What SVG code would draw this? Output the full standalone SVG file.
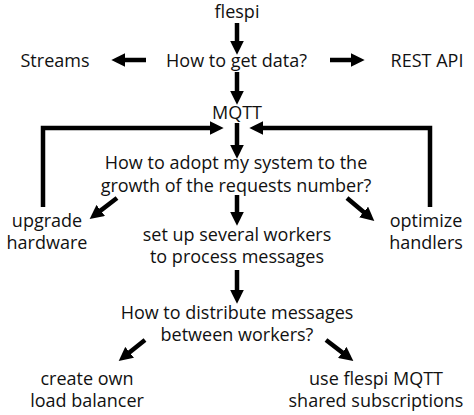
<svg xmlns="http://www.w3.org/2000/svg" width="474" height="415" viewBox="0 0 474 415">
<style>
text{font-family:"Open Sans","DejaVu Sans",sans-serif;font-size:18px;fill:#111;text-anchor:middle}
.c{fill:none;stroke:#000;stroke-width:4.5;marker-end:url(#ah)}
</style>
<defs>
<marker id="ah" markerUnits="userSpaceOnUse" markerWidth="14" markerHeight="14" refX="2" refY="6" orient="auto" viewBox="0 0 12 12">
<path d="M0,0 L12,6 L0,12 z" fill="#000"/>
</marker>
</defs>
<rect width="474" height="415" fill="#fff"/>
<g id="connectors">
<path class="c" d="M237,23 V43"/>
<path class="c" d="M237,72 V93"/>
<path class="c" d="M146,60 H123"/>
<path class="c" d="M330,60 H353"/>
<path class="c" d="M43,207 V128 H212"/>
<path class="c" d="M430,207 V128 H261"/>
<path class="c" d="M237,123 V147"/>
<path class="c" d="M117,198 L98.9,211.9"/>
<path class="c" d="M237,195 V214"/>
<path class="c" d="M347,198 L365.4,213.5"/>
<path class="c" d="M237,270 V292"/>
<path class="c" d="M145,340 L127.8,353.8"/>
<path class="c" d="M326,340 L344.1,353.9"/>
</g>
<g id="flespi"><text x="237" y="18">flespi</text></g>
<g id="streams"><text x="55" y="67">Streams</text></g>
<g id="get-data"><text x="236.5" y="67">How to get data?</text></g>
<g id="rest-api"><text x="427" y="67">REST API</text></g>
<g id="mqtt"><text x="237" y="119">MQTT</text></g>
<g id="adopt"><text x="236" y="169">How to adopt my system to the</text><text x="236" y="192">growth of the requests number?</text></g>
<g id="upgrade"><text x="47" y="227">upgrade</text><text x="47" y="249">hardware</text></g>
<g id="workers"><text x="237" y="241">set up several workers</text><text x="237" y="263">to process messages</text></g>
<g id="optimize"><text x="426" y="227">optimize</text><text x="426" y="249">handlers</text></g>
<g id="distribute"><text x="237" y="319">How to distribute messages</text><text x="237" y="341">between workers?</text></g>
<g id="balancer"><text x="87" y="385">create own</text><text x="87" y="407">load balancer</text></g>
<g id="shared"><text x="376" y="385">use flespi MQTT</text><text x="376" y="407">shared subscriptions</text></g>
</svg>
